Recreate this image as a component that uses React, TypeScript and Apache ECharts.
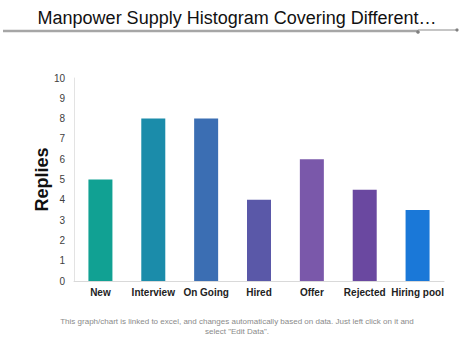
import React, { useEffect, useRef } from "react";
import * as echarts from "echarts";

const categories = ["New", "Interview", "On Going", "Hired", "Offer", "Rejected", "Hiring pool"];
const replies = [5, 8, 8, 4, 6, 4.5, 3.5];
const barColors = ["#11A193", "#1B8CAA", "#3B6EB3", "#5A58A8", "#7A58AA", "#6A48A0", "#1A78D8"];
const yTicks = [0, 10, 1];

export default function App() {
  const ref = useRef<HTMLDivElement>(null);
  useEffect(() => {
    if (!ref.current) return;
    const chart = echarts.init(ref.current, null, { renderer: "svg" });
    chart.setOption({
      animation: false,
      backgroundColor: "#ffffff",
      title: {
        text: "Manpower Supply Histogram Covering Different…",
        left: "center",
        top: 4,
        textStyle: { fontFamily: "Liberation Sans, Arial, sans-serif", fontSize: 18, fontWeight: "normal", color: "#111" },
      },
      graphic: [
        { type: "line", shape: { x1: 3, y1: 31, x2: 418, y2: 31 }, style: { stroke: "#a6a6a6", lineWidth: 2.5 } },
        { type: "line", shape: { x1: 418, y1: 30, x2: 457, y2: 30 }, style: { stroke: "#8c8c8c", lineWidth: 1 } },
        { type: "circle", shape: { cx: 418, cy: 32, r: 1.8 }, style: { fill: "#7f7f7f" } },
        { type: "circle", shape: { cx: 457, cy: 30, r: 1.6 }, style: { fill: "#7f7f7f" } },
        {
          type: "text",
          x: 237,
          y: 316,
          style: {
            text: "This graph/chart is linked to excel, and changes automatically based on data. Just left click on it and\nselect \"Edit Data\".",
            align: "center",
            verticalAlign: "top",
            fontFamily: "Liberation Sans, Arial, sans-serif",
            fontSize: 8,
            lineHeight: 10,
            fill: "#8a8a8a",
          },
        },
      ],
      grid: { left: 74, right: 30, top: 78, bottom: 70, containLabel: false },
      xAxis: {
        type: "category",
        data: categories,
        axisLine: { lineStyle: { color: "#d9d9d9" } },
        axisTick: { show: false },
        axisLabel: {
          interval: 0,
          color: "#222",
          fontWeight: "bold",
          fontSize: 10,
          fontFamily: "Liberation Sans, Arial, sans-serif",
          margin: 6,
        },
      },
      yAxis: {
        type: "value",
        min: yTicks[0],
        max: yTicks[1],
        interval: yTicks[2],
        name: "Replies",
        nameLocation: "middle",
        nameGap: 23,
        nameMoveOverlap: false,
        nameTextStyle: { fontSize: 18, fontWeight: "bold", color: "#111", fontFamily: "Liberation Sans, Arial, sans-serif" },
        axisLine: { show: true, lineStyle: { color: "#e3e3e3" } },
        axisTick: { show: false },
        splitLine: { show: false },
        axisLabel: { color: "#404040", fontSize: 10, fontFamily: "Liberation Sans, Arial, sans-serif", margin: 9 },
      },
      series: [
        {
          type: "bar",
          data: replies.map((v, i) => ({ value: v, itemStyle: { color: barColors[i] } })),
          barWidth: 24,
        },
      ],
    });
    return () => chart.dispose();
  }, []);
  return <div ref={ref} style={{ width: 474, height: 351, position: "absolute", left: 0, top: 0 }} />;
}
